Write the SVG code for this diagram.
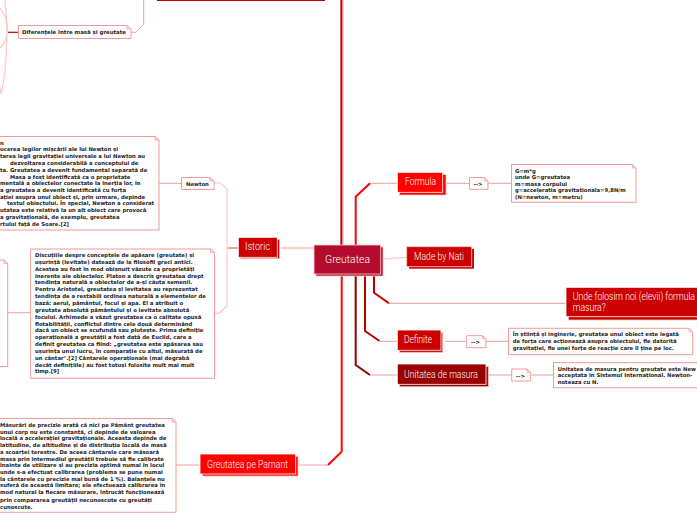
<svg xmlns="http://www.w3.org/2000/svg" width="697" height="520" viewBox="0 0 697 520">
<style>
text{font-family:"DejaVu Sans",sans-serif}
.n{font-size:5.3px;font-weight:bold;fill:#222}
.t{font-family:Roboto,sans-serif;font-size:10px;font-weight:300;fill:#fff}
.b{fill:#fff;stroke:#f49a9a;stroke-width:1}
.fo{fill:#fde4e4;stroke:#f49a9a;stroke-width:.7}
.l{fill:none;stroke:#ff9a9a;stroke-width:1}
.g{fill:none;stroke:#e8a0a0;stroke-width:1}
.p{fill:none;stroke:#fcc6c6;stroke-width:1.200}
.s{stroke:#fbb;stroke-width:.8}
.r{stroke:#fcc;stroke-width:.8}
</style>
<g id="connectors" fill="none">
<path d="M341.500 0V245" stroke="#c00000" stroke-width="2.200"/>
<path d="M343 0V245" stroke="#f4a8a8" stroke-width="1"/>
<path d="M341.700 276V451.700L328 465" stroke="#f00" stroke-width="2"/>
<path d="M355.700 245V196.700L370 183.300" stroke="#f00" stroke-width="2"/>
<path d="M374 276V292.700L389 303.300" stroke="#c00000" stroke-width="2"/>
<path d="M365 276V331L379.500 341" stroke="#c00000" stroke-width="2"/>
<path d="M355.700 276V365L370 375" stroke="#900000" stroke-width="2"/>
<path d="M8 32.300H18" stroke="#c00000" stroke-width="1.200"/>
<path d="M370 183.300H397M447 183.300H469M488 183.300H511M159 183.300H181.500M281 248H314M176 465H199M299 465H328M8 312.700H30" class="l"/>
<path d="M383 259L407 257.300" class="p"/>
<path d="M389 303.300H566M379.500 341.300H397M445 341.300H466.500M486 341.300H508M370 375H397M489 375H511.500M531 375H553" class="g"/>
<path d="M227 248H238" stroke="#e85050"/>
<path d="M214 183H220L227 189V306L219 313.300H214.500" class="p"/>
<path d="M0 8Q8 18 7.500 30T0 48M5 0Q9 35 5 70T0 87" class="p"/>
<path d="M131 32.300H136L143.700 24V0" class="g"/>
</g>
<rect x="157" y="0" width="168" height="1" fill="#c00000"/>
<g id="note-diferente">
<path d="M18.500 25.500H127L131 29V38.500H18.500Z" class="b"/>
<path d="M127 25.500V29H131Z" class="fo"/>
<text x="22" y="34" class="n" textLength="104" lengthAdjust="spacingAndGlyphs">Diferențele între masă și greutate</text>
</g>
<g id="note-newton-text">
<path d="M-4 136.500H155L159 140V230H-4Z" class="b"/>
<path d="M155 136.500V140H159Z" class="fo"/>
<g class="n">
<text x="0" y="145">n</text>
<text x="0" y="151">ucerea legilor mișcării ale lui Newton și</text>
<text x="0" y="158">tarea legii gravitației universale a lui Newton au</text>
<text x="10" y="165">dezvoltarea considerabilă a conceptului de</text>
<text x="0" y="172">ta. Greutatea a devenit fundamental separată de</text>
<text x="10" y="178.700">Masa a fost identificată ca o proprietate</text>
<text x="0" y="185.300">mentală a obiectelor conectate la inerția lor, în</text>
<text x="0" y="192">a greutatea a devenit identificată cu forța</text>
<text x="0" y="198.700">ației asupra unui obiect și, prin urmare, depinde</text>
<text x="7" y="205.300">textul obiectului. În special, Newton a considerat</text>
<text x="0" y="212">utatea este relativă la un alt obiect care provocă</text>
<text x="0" y="219">a gravitațională, de exemplu, greutatea</text>
<text x="0" y="226">rtului față de Soare.[2]</text>
</g>
</g>
<g id="note-newton">
<path d="M181.500 177.500H210L214 181V189.500H181.500Z" class="b"/>
<path d="M210 177.500V181H214Z" class="fo"/>
<text x="186" y="186" class="n">Newton</text>
</g>
<g id="note-left">
<path d="M-4 260H4L7.700 263.500V366.500H-4Z" class="b"/>
<path d="M4 260V263.500H7.700Z" class="fo"/>
</g>
<g id="note-discutii">
<path d="M30.700 249H210.500L214.500 252.500V378.300H30.700Z" class="b"/>
<path d="M210.500 249V252.500H214.500Z" class="fo"/>
<g class="n">
<text x="35" y="257">Discuțiile despre conceptele de apăsare (greutate) și</text>
<text x="35" y="263.800">ușurință (levitate) datează de la filosofii greci antici.</text>
<text x="35" y="270.700">Acestea au fost în mod obișnuit văzute ca proprietăți</text>
<text x="35" y="277.500">inerente ale obiectelor. Platon a descris greutatea drept</text>
<text x="35" y="284.400">tendința naturală a obiectelor de a-și căuta semenii.</text>
<text x="35" y="291.200">Pentru Aristotel, greutatea și levitatea au reprezentat</text>
<text x="35" y="298.100">tendința de a restabili ordinea naturală a elementelor de</text>
<text x="35" y="304.900">bază: aerul, pământul, focul și apa. El a atribuit o</text>
<text x="35" y="311.800">greutate absolută pământului și o levitate absolută</text>
<text x="35" y="318.600">focului. Arhimede a văzut greutatea ca o calitate opusă</text>
<text x="35" y="325.500">flotabilității, conflictul dintre cele două determinând</text>
<text x="35" y="332.300">dacă un obiect se scufundă sau plutește. Prima definiție</text>
<text x="35" y="339.200">operațională a greutății a fost dată de Euclid, care a</text>
<text x="35" y="346">definit greutatea ca fiind: „greutatea este apăsarea sau</text>
<text x="35" y="352.900">ușurința unui lucru, în comparație cu altul, măsurată de</text>
<text x="35" y="359.700">un cântar".[2] Cântarele operaționale (mai degrabă</text>
<text x="35" y="366.600">decât definițiile) au fost totuși folosite mult mai mult</text>
<text x="35" y="373.400">timp.[9]</text>
</g>
</g>
<g id="note-masurari">
<path d="M-4 418.500H172L176 422V512.300H-4Z" class="b"/>
<path d="M172 418.500V422H176Z" class="fo"/>
<g class="n">
<text x="0" y="427">Măsurări de precizie arată că nici pe Pământ greutatea</text>
<text x="0" y="433.700">unui corp nu este constantă, ci depinde de valoarea</text>
<text x="0" y="440.400">locală a accelerației gravitaționale. Aceasta depinde de</text>
<text x="0" y="447.100">latitudine, de altitudine și de distribuția locală de masă</text>
<text x="0" y="453.800">a scoarței terestre. De aceea cântarele care măsoară</text>
<text x="0" y="460.500">masa prin intermediul greutății trebuie să fie calibrate</text>
<text x="0" y="467.300">înainte de utilizare și au precizia optimă numai în locul</text>
<text x="0" y="474">unde s-a efectuat calibrarea (problema se pune numai</text>
<text x="0" y="480.700">la cântarele cu precizie mai bună de 1 %). Balanțele nu</text>
<text x="0" y="487.400">suferă de această limitare; ele efectuează calibrarea în</text>
<text x="0" y="494.200">mod natural la fiecare măsurare, întrucât funcționează</text>
<text x="0" y="501.500">prin compararea greutății necunoscute cu greutăți</text>
<text x="0" y="509">cunoscute.</text>
</g>
</g>
<g id="istoric">
<rect x="240.500" y="239.500" width="39" height="19" fill="#c00" class="s"/>
<rect x="238.300" y="237.300" width="39" height="20" fill="#c00" stroke="#fff" stroke-width=".8"/>
<text x="245" y="250" class="t" textLength="25" lengthAdjust="spacingAndGlyphs">Istoric</text>
</g>
<g id="greutatea">
<rect x="316" y="247" width="67" height="29" fill="#b30c2d" class="s"/>
<rect x="314" y="245" width="66.700" height="29" fill="#b30c2d" class="r"/>
<text x="325" y="263" class="t" style="font-size:11.700px" textLength="45" lengthAdjust="spacingAndGlyphs">Greutatea</text>
</g>
<g id="pamant">
<rect x="202.500" y="456.500" width="95.500" height="19.500" fill="#f00" class="s"/>
<rect x="200" y="454" width="95.700" height="20" fill="#f00" stroke="#fff" stroke-width=".8"/>
<text x="207" y="467.500" class="t" textLength="81" lengthAdjust="spacingAndGlyphs">Greutatea pe Pamant</text>
</g>
<g id="formula">
<rect x="399.500" y="174.500" width="46.500" height="20.500" fill="#f00" class="s"/>
<rect x="397.300" y="172.300" width="45.400" height="20" fill="#f00" stroke="#fff" stroke-width=".8"/>
<text x="405" y="185" class="t" textLength="31" lengthAdjust="spacingAndGlyphs">Formula</text>
</g>
<g id="made">
<rect x="409" y="249" width="65" height="19.700" fill="#c00"/>
<rect x="406.700" y="246.700" width="65" height="20" fill="#c00" class="r"/>
<text x="414" y="260" class="t" textLength="50" lengthAdjust="spacingAndGlyphs">Made by Nati</text>
</g>
<g id="unde">
<rect x="568.500" y="290" width="135" height="30" fill="#c00" class="s"/>
<rect x="566" y="287.300" width="135" height="29.400" fill="#c00" stroke="#fff" stroke-width=".8"/>
<text x="572.700" y="300" class="t" textLength="122.300" lengthAdjust="spacingAndGlyphs">Unde folosim noi (elevii) formula</text>
<text x="572.700" y="311" class="t" textLength="33" lengthAdjust="spacingAndGlyphs">masura?</text>
</g>
<g id="definite">
<rect x="399.500" y="332.500" width="43.200" height="19.800" fill="#c00" class="s"/>
<rect x="397.300" y="330" width="43.700" height="20.300" fill="#c00" stroke="#fff" stroke-width=".8"/>
<text x="404" y="343" class="t" textLength="28" lengthAdjust="spacingAndGlyphs">Definite</text>
</g>
<g id="unitatea">
<rect x="399.500" y="366.500" width="88.800" height="20.200" fill="#900" class="s"/>
<rect x="397.300" y="364" width="88.700" height="20.300" fill="#900" stroke="#fff" stroke-width=".8"/>
<text x="404" y="377.500" class="t" textLength="74" lengthAdjust="spacingAndGlyphs">Unitatea de masura</text>
</g>
<g id="arrow1">
<path d="M469.500 177.500H484.500L488 181V189.300H469.500Z" class="b"/>
<path d="M484.500 177.500V181H488Z" class="fo"/>
<text x="473.500" y="186" class="n">--&gt;</text>
</g>
<g id="arrow2">
<path d="M466.700 335.700H482.500L486 339V347.700H466.700Z" class="b"/>
<path d="M482.500 335.700V339H486Z" class="fo"/>
<text x="471" y="344" class="n">--&gt;</text>
</g>
<g id="arrow3">
<path d="M511.700 369H527L530.700 372.500V381H511.700Z" class="b"/>
<path d="M527 369V372.500H530.700Z" class="fo"/>
<text x="516" y="377.500" class="n">--&gt;</text>
</g>
<g id="note-g">
<path d="M511.500 164.500H632.500L636 168V202.300H511.500Z" class="b"/>
<path d="M632.500 164.500V168H636Z" class="fo"/>
<g class="n">
<text x="515" y="172.700">G=m*g</text>
<text x="515" y="178.900">unde G=greutatea</text>
<text x="515" y="186">m=masa corpului</text>
<text x="515" y="192.200">g=acceleratia gravitationala=9,8N/m</text>
<text x="515" y="199">(N=newton, m=metru)</text>
</g>
</g>
<g id="note-stiinta">
<path d="M508.500 328.300H689L692.700 332V354.700H508.500Z" class="b"/>
<path d="M689 328.300V332H692.700Z" class="fo"/>
<g class="n">
<text x="512.700" y="336">În știință și inginerie, greutatea unui obiect este legată</text>
<text x="512.700" y="343.300">de forța care acționează asupra obiectului, fie datorită</text>
<text x="512.700" y="350.300">gravitației, fie unei forțe de reacție care îl ține pe loc.</text>
</g>
</g>
<g id="note-unitatea">
<rect x="553.500" y="362.700" width="150" height="25" class="b"/>
<g class="n">
<text x="557.700" y="371">Unitatea de masura pentru greutate este New</text>
<text x="557.700" y="377">acceptata in Sistemul International. Newton-</text>
<text x="557.700" y="384">noteaza cu N.</text>
</g>
</g>
</svg>
